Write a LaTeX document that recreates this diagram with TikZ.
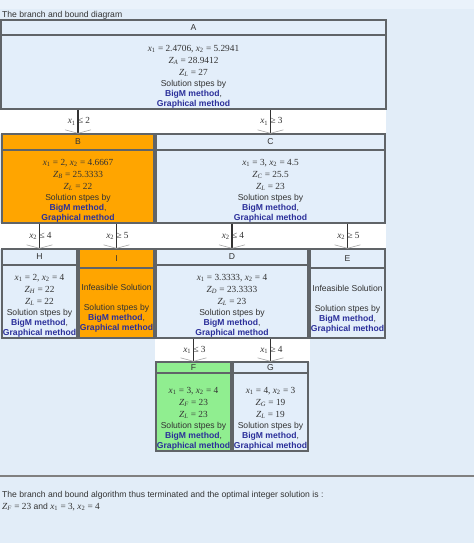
\documentclass[tikz,border=0pt]{standalone}
\usepackage{fontspec}
\setmainfont{Liberation Sans}
\newfontfamily\tms{Liberation Serif}
\usetikzlibrary{calc}
\definecolor{pagebg}{HTML}{E2EDF8}
\definecolor{topbg}{HTML}{EAF2FB}
\definecolor{boxbg}{HTML}{E3EEFA}
\definecolor{bordergray}{HTML}{606468}
\definecolor{methodblue}{HTML}{2B2F9A}
\definecolor{orangefill}{HTML}{FFA500}
\definecolor{greenfill}{HTML}{90EE90}
\definecolor{txt}{HTML}{333333}
\newcommand\mth[1]{{\tms\fontsize{9.3}{10}\selectfont #1}}
\newcommand\xs[1]{\textit{x}\textsubscript{#1}}
\newcommand\zs[1]{\textit{Z}\textsubscript{\textit{#1}}}
\newcommand\methods{{\bfseries\color{methodblue}BigM method},\\{\bfseries\color{methodblue}Graphical method}}
\newcommand\soltext{Solution stpes by\\\methods}
\newcommand\feas[5]{\mth{\xs{1} = #1, \xs{2} = #2}\\[2pt]\mth{\zs{#3} = #4}\\[2pt]\mth{\zs{L} = #5}\\[1pt]\soltext}
\newcommand\infeas{Infeasible Solution\\[10pt]\soltext}
\newcommand\tbox[8]{%
  \node[box, fill=#7, minimum width={#4-#2}, minimum height={#5-#3}] (#1) at ({(#2+#4)/2},{(#3+#5)/2}) {};
  \draw[divline] (#1.west |- 0,#6) -- (#1.east |- 0,#6);
  \node[hdr] (#1h) at ({(#2+#4)/2},{(#3+#6)/2}) {#8};
}
\begin{document}
\begin{tikzpicture}[x=1pt,y=-1pt,
  box/.style={draw=bordergray, line width=1.4pt, inner sep=0pt},
  divline/.style={draw=bordergray, line width=1.2pt},
  hdr/.style={font=\fontsize{8.6}{10}\selectfont, text=txt, inner sep=0pt},
  body/.style={font=\fontsize{8.6}{10}\selectfont, text=txt, align=center, inner sep=0pt},
  conn/.style={draw=black!80, line width=1.8pt},
  tipv/.style={draw=gray!70, line width=0.6pt},
  lbl/.style={font=\fontsize{8.6}{10}\selectfont, text=txt, inner sep=0pt},
  plain/.style={font=\fontsize{8.6}{10}\selectfont, text=txt, inner sep=0pt, anchor=west},
]
\useasboundingbox (0,0) rectangle (474,543);
\fill[pagebg] (0,0) rectangle (474,543);
\fill[topbg] (0,0) rectangle (474,9);
% white gaps
\fill[white] (0,109) rectangle (386,134);
\fill[white] (0,223) rectangle (386,249);
\fill[white] (155,338) rectangle (310,362);

\node[plain] (title) at (2,15) {The branch and bound diagram};

\tbox{A}{1}{20}{386}{109}{35}{boxbg}{A}
\tbox{B}{2}{134}{154}{223}{150}{orangefill}{B}
\tbox{C}{156}{134}{385}{223}{150}{boxbg}{C}
\tbox{H}{2}{249}{77}{338}{265}{boxbg}{H}
\tbox{I}{79}{249}{154}{338}{268}{orangefill}{I}
\tbox{D}{156}{249}{308}{338}{265}{boxbg}{D}
\tbox{E}{310}{249}{385}{338}{268}{boxbg}{E}
\tbox{F}{156}{362}{231}{451}{373}{greenfill}{F}
\tbox{G}{233}{362}{308}{451}{373}{boxbg}{G}

\node[body, anchor=south] (Ac) at ($(A.south)+(0,-1)$) {\feas{2.4706}{5.2941}{A}{28.9412}{27}};
\node[body, anchor=south] (Bc) at ($(B.south)+(0,-1)$) {\feas{2}{4.6667}{B}{25.3333}{22}};
\node[body, anchor=south] (Cc) at ($(C.south)+(0,-1)$) {\feas{3}{4.5}{C}{25.5}{23}};
\node[body, anchor=south] (Hc) at ($(H.south)+(0,-1)$) {\feas{2}{4}{H}{22}{22}};
\node[body, anchor=south] (Ic) at ($(I.south)+(0,-6)$) {\infeas};
\node[body, anchor=south] (Dc) at ($(D.south)+(0,-1)$) {\feas{3.3333}{4}{D}{23.3333}{23}};
\node[body, anchor=south] (Ec) at ($(E.south)+(0,-5)$) {\infeas};
\node[body, anchor=south] (Fc) at ($(F.south)+(0,-1)$) {\feas{3}{4}{F}{23}{23}};
\node[body, anchor=south] (Gc) at ($(G.south)+(0,-1)$) {\feas{4}{3}{G}{19}{19}};

% connectors
\foreach \p/\c/\t in {A/B/{\xs{1} ≤ 2}, A/C/{\xs{1} ≥ 3}, B/H/{\xs{2} ≤ 4}, B/I/{\xs{2} ≥ 5}, C/D/{\xs{2} ≤ 4}, C/E/{\xs{2} ≥ 5}, D/F/{\xs{1} ≤ 3}, D/G/{\xs{1} ≥ 4}}{
  \draw[conn] (\c.north |- \p.south) -- (\c.north) node[lbl, midway, xshift=1pt] {\mth{\t}};
  \draw[tipv] ($(\c.north)+(-13,-3.5)$) -- (\c.north) -- ($(\c.north)+(13,-3.5)$);
}

\draw[draw=gray, line width=1.2pt] (0,476) -- (474,476);
\node[plain] (concl) at (2,495) {The branch and bound algorithm thus terminated and the optimal integer solution is :};
\node[plain] (sol) at (2,507) {\mth{\zs{F} = 23} and \mth{\xs{1} = 3, \xs{2} = 4}};
\end{tikzpicture}
\end{document}
